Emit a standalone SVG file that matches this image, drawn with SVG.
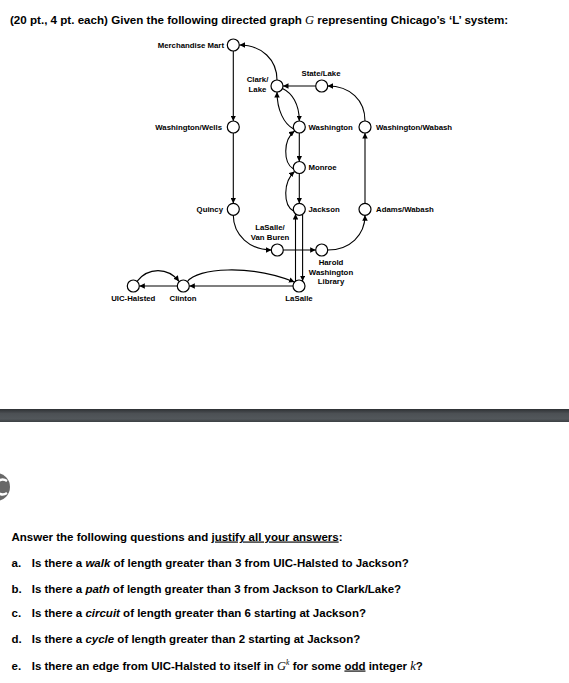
<svg xmlns="http://www.w3.org/2000/svg" width="569" height="683" viewBox="0 0 569 683">
<style>
  .t { font-family: "Liberation Sans", Arial, sans-serif; font-weight: bold; fill: #000; }
  .lbl { font-family: "Liberation Sans", Arial, sans-serif; font-weight: bold; font-size: 7.8px; fill: #000; }
  .q { font-size: 11.5px; }
  .node circle { fill: #fff; stroke: #000; stroke-width: 1.2; }
  .edge { fill: none; stroke: #000; stroke-width: 1.1; marker-end: url(#ah); }
  .gi { font-family: "Liberation Serif", "Times New Roman", serif; font-style: italic; }
</style>
<defs>
  <marker id="ah" viewBox="0 0 10 10" refX="10" refY="5" markerWidth="5.5" markerHeight="5.5" markerUnits="userSpaceOnUse" orient="auto">
    <path d="M0,0 L10,5 L0,10 z" fill="#000"/>
  </marker>
  <linearGradient id="band" x1="0" y1="0" x2="0" y2="1">
    <stop offset="0" stop-color="#2e3134"/>
    <stop offset="0.35" stop-color="#4c5054"/>
    <stop offset="0.75" stop-color="#52575b"/>
    <stop offset="1" stop-color="#3c4043"/>
  </linearGradient>
</defs>
<rect width="569" height="683" fill="#fff"/>

<text class="t" x="10" y="24" font-size="11.6">(20 pt., 4 pt. each) Given the following directed graph <tspan class="gi" font-weight="normal" font-size="12.5">G</tspan> representing Chicago’s ‘L’ system:</text>

<g id="connectors">
  <path class="edge" d="M277,80 C277,60 262,45 239.5,45"/>
  <path class="edge" d="M233.3,51 L233.3,121"/>
  <path class="edge" d="M233.3,133 L233.3,203.3"/>
  <path class="edge" d="M233.3,215.3 C233.3,235 250,250 271.3,250"/>
  <path class="edge" d="M283.3,250 L315.7,250"/>
  <path class="edge" d="M327.7,250 C350,250 365,235 365,215.3"/>
  <path class="edge" d="M365,203.3 L365,133"/>
  <path class="edge" d="M365,121 C365,100 350,86 327.7,86"/>
  <path class="edge" d="M315.7,86 L283,86"/>
  <path class="edge" d="M282.5,88.5 C292,93 299.3,104 299.3,121"/>
  <path class="edge" d="M293.6,129 C284,124 277,110 277,92"/>
  <path class="edge" d="M299.3,133 L299.3,161.5"/>
  <path class="edge" d="M293.5,169 C283,163 283,140 294.5,131"/>
  <path class="edge" d="M299.3,173.5 L299.3,203.3"/>
  <path class="edge" d="M293.5,211 C283,205 283,182 294.5,171.5"/>
  <path class="edge" d="M302.6,214.5 L302.6,281"/>
  <path class="edge" d="M295.5,281.5 L295.5,214"/>
  <path class="edge" d="M293,286 L189.3,286"/>
  <path class="edge" d="M187.5,281.5 C197,268 250,264 294.5,282"/>
  <path class="edge" d="M177.3,286 L139.3,286"/>
  <path class="edge" d="M137,281.3 C148,267 168,267 179,281.3"/>
</g>

<g id="merchandise-mart" class="node"><circle cx="233.3" cy="45" r="6"/><text class="lbl" x="224" y="47.7" text-anchor="end">Merchandise Mart</text></g>
<g id="clark-lake" class="node"><circle cx="277" cy="86" r="6"/><text class="lbl" x="257.5" y="81.9" text-anchor="middle">Clark/</text><text class="lbl" x="257.5" y="91.9" text-anchor="middle">Lake</text></g>
<g id="state-lake" class="node"><circle cx="321.7" cy="86" r="6"/><text class="lbl" x="321" y="75.9" text-anchor="middle">State/Lake</text></g>
<g id="washington-wells" class="node"><circle cx="233.3" cy="127" r="6"/><text class="lbl" x="222" y="129.7" text-anchor="end">Washington/Wells</text></g>
<g id="washington" class="node"><circle cx="299.3" cy="127" r="6"/><text class="lbl" x="308.5" y="129.7">Washington</text></g>
<g id="washington-wabash" class="node"><circle cx="365" cy="127" r="6"/><text class="lbl" x="376" y="129.7">Washington/Wabash</text></g>
<g id="monroe" class="node"><circle cx="299.3" cy="167.5" r="6"/><text class="lbl" x="308.5" y="170.2">Monroe</text></g>
<g id="quincy" class="node"><circle cx="233.3" cy="209.3" r="6"/><text class="lbl" x="223" y="212" text-anchor="end">Quincy</text></g>
<g id="jackson" class="node"><circle cx="299.3" cy="209.3" r="6"/><text class="lbl" x="308.5" y="212">Jackson</text></g>
<g id="adams-wabash" class="node"><circle cx="365" cy="209.3" r="6"/><text class="lbl" x="376" y="212">Adams/Wabash</text></g>
<g id="lasalle-van-buren" class="node"><circle cx="277.3" cy="250" r="6"/><text class="lbl" x="270" y="229.9" text-anchor="middle">LaSalle/</text><text class="lbl" x="270" y="239.9" text-anchor="middle">Van Buren</text></g>
<g id="harold-washington-library" class="node"><circle cx="321.7" cy="250" r="6"/><text class="lbl" x="331" y="264.9" text-anchor="middle">Harold</text><text class="lbl" x="331" y="274.6" text-anchor="middle">Washington</text><text class="lbl" x="331" y="284.1" text-anchor="middle">Library</text></g>
<g id="lasalle" class="node"><circle cx="299" cy="286" r="6"/><text class="lbl" x="299" y="301.1" text-anchor="middle">LaSalle</text></g>
<g id="uic-halsted" class="node"><circle cx="133.3" cy="286" r="6"/><text class="lbl" x="133.3" y="301.1" text-anchor="middle">UIC-Halsted</text></g>
<g id="clinton" class="node"><circle cx="183.3" cy="286" r="6"/><text class="lbl" x="183" y="301.1" text-anchor="middle">Clinton</text></g>

<rect x="0" y="409" width="569" height="13" fill="url(#band)"/>

<g id="icon">
  <circle cx="-4" cy="487" r="14" fill="#686868"/>
  <path d="M7,481 C2,478 -3,480 -3,486 M7,493 C2,496 -3,494 -3,488" fill="none" stroke="#fff" stroke-width="2.4"/>
</g>

<text class="t q" x="11.5" y="540.5">Answer the following questions and <tspan text-decoration="underline">justify all your answers</tspan>:</text>
<text class="t q" x="11.5" y="567">a.</text>
<text class="t q" x="31.7" y="567">Is there a <tspan font-style="italic">walk</tspan> of length greater than 3 from UIC-Halsted to Jackson?</text>
<text class="t q" x="11.5" y="592.5">b.</text>
<text class="t q" x="31.7" y="592.5">Is there a <tspan font-style="italic">path</tspan> of length greater than 3 from Jackson to Clark/Lake?</text>
<text class="t q" x="11.5" y="616.5">c.</text>
<text class="t q" x="31.7" y="616.5">Is there a <tspan font-style="italic">circuit</tspan> of length greater than 6 starting at Jackson?</text>
<text class="t q" x="11.5" y="642.5">d.</text>
<text class="t q" x="31.7" y="642.5">Is there a <tspan font-style="italic">cycle</tspan> of length greater than 2 starting at Jackson?</text>
<text class="t q" x="11.5" y="669.5">e.</text>
<text class="t q" x="31.7" y="669.5">Is there an edge from UIC-Halsted to itself in <tspan class="gi" font-weight="normal" font-size="12.5">G</tspan><tspan class="gi" font-weight="normal" font-size="7.5" dy="-5">k</tspan><tspan dy="5"> for some </tspan><tspan text-decoration="underline">odd</tspan> integer <tspan class="gi" font-weight="normal" font-size="12.5">k</tspan>?</text>
</svg>
